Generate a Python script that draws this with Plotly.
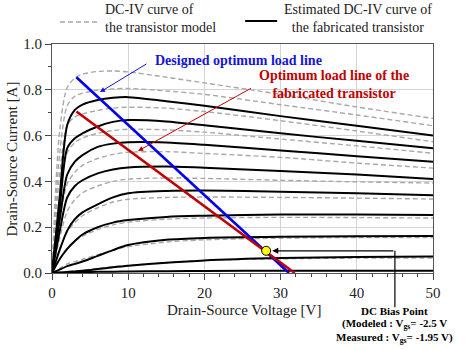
import plotly.graph_objects as go

# ---------------- data ----------------
V = [0, 1, 2, 3, 4, 6, 8, 10, 15, 20, 30, 40, 50]

# estimated DC-IV curves of the fabricated transistor (solid black)
S1 = [0, 0.33, 0.646, 0.712, 0.735, 0.755, 0.765, 0.768, 0.750, 0.730, 0.685, 0.643, 0.600]
S2 = [0, 0.28, 0.545, 0.588, 0.610, 0.640, 0.660, 0.668, 0.662, 0.645, 0.610, 0.577, 0.545]
S3 = [0, 0.23, 0.430, 0.486, 0.515, 0.551, 0.565, 0.571, 0.570, 0.560, 0.535, 0.510, 0.486]
S4 = [0, 0.18, 0.330, 0.380, 0.405, 0.435, 0.452, 0.461, 0.465, 0.460, 0.445, 0.430, 0.410]
S5 = [0, 0.10, 0.185, 0.235, 0.265, 0.300, 0.330, 0.348, 0.358, 0.360, 0.355, 0.348, 0.340]
S6 = [0, 0.06, 0.105, 0.140, 0.168, 0.200, 0.220, 0.231, 0.245, 0.250, 0.255, 0.255, 0.253]
S7 = [0, 0.015, 0.030, 0.040, 0.050, 0.075, 0.100, 0.122, 0.145, 0.153, 0.158, 0.160, 0.162]
S8 = [0, 0.002, 0.004, 0.007, 0.010, 0.017, 0.025, 0.032, 0.045, 0.055, 0.065, 0.070, 0.072]
S9 = [0, 0.001, 0.002, 0.003, 0.004, 0.005, 0.006, 0.007, 0.008, 0.009, 0.010, 0.010, 0.010]
solid_curves = [S1, S2, S3, S4, S5, S6, S7, S8, S9]

# DC-IV curves of the transistor model (dashed gray)
D1 = [0, 0.62, 0.810, 0.852, 0.868, 0.880, 0.882, 0.878, 0.855, 0.830, 0.780, 0.725, 0.675]
D2 = [0, 0.52, 0.730, 0.772, 0.785, 0.798, 0.804, 0.806, 0.795, 0.780, 0.735, 0.690, 0.643]
D3 = [0, 0.43, 0.645, 0.682, 0.695, 0.710, 0.720, 0.724, 0.720, 0.705, 0.665, 0.620, 0.573]
D4 = [0, 0.33, 0.525, 0.570, 0.590, 0.610, 0.622, 0.628, 0.625, 0.615, 0.585, 0.555, 0.523]
D5 = [0, 0.23, 0.390, 0.440, 0.470, 0.500, 0.518, 0.527, 0.530, 0.522, 0.505, 0.480, 0.458]
D6 = [0, 0.15, 0.270, 0.320, 0.350, 0.380, 0.400, 0.410, 0.415, 0.413, 0.405, 0.398, 0.393]
D7 = [0, 0.10, 0.180, 0.220, 0.250, 0.285, 0.310, 0.322, 0.330, 0.332, 0.330, 0.327, 0.323]
D8 = [0, 0.06, 0.110, 0.140, 0.160, 0.190, 0.210, 0.222, 0.235, 0.240, 0.243, 0.242, 0.240]
D9 = [0, 0.02, 0.040, 0.050, 0.060, 0.080, 0.100, 0.115, 0.135, 0.145, 0.152, 0.155, 0.155]
D10 = [0, 0.002, 0.005, 0.008, 0.012, 0.020, 0.028, 0.033, 0.045, 0.055, 0.062, 0.065, 0.065]
dashed_curves = [D1, D2, D3, D4, D5, D6, D7, D8, D9, D10]

# load lines (V, I end points)
designed_V = [3.2, 31.1]
designed_I = [0.855, 0.0]
fabricated_V = [3.2, 31.85]
fabricated_I = [0.705, 0.0]

# DC bias point
bias_V = [28.1]
bias_I = [0.097]
bias_box_V = 45

x_ticks = [0, 10, 20, 30, 40, 50]
y_ticks = [0.0, 0.2, 0.4, 0.6, 0.8, 1.0]

# ---------------- figure ----------------
SERIF = "Liberation Serif"
fig = go.Figure()

for d in dashed_curves:
    fig.add_trace(go.Scatter(x=V, y=d, mode="lines", showlegend=False,
                             line=dict(color="#a8a8a8", width=1.4, dash="5px,3px",
                                       shape="spline", smoothing=0.8)))
for s in solid_curves:
    fig.add_trace(go.Scatter(x=V, y=s, mode="lines", showlegend=False,
                             line=dict(color="black", width=2, shape="spline", smoothing=0.8)))

fig.add_trace(go.Scatter(x=designed_V, y=designed_I, mode="lines", showlegend=False,
                         line=dict(color="#0000ee", width=2.6)))
fig.add_trace(go.Scatter(x=fabricated_V, y=fabricated_I, mode="lines", showlegend=False,
                         line=dict(color="#c00000", width=2.6)))
fig.add_trace(go.Scatter(x=bias_V, y=bias_I, mode="markers", showlegend=False,
                         marker=dict(color="#ffff00", size=9, line=dict(color="black", width=1))))


def note(text, x, y, xref="paper", yref="paper", size=14, color="#222", bold=False, **kw):
    t = f"<b>{text}</b>" if bold else text
    d = dict(x=x, y=y, xref=xref, yref=yref, text=t, showarrow=False,
             xanchor=kw.pop("xanchor", "center"), yanchor=kw.pop("yanchor", "middle"),
             font=dict(family=SERIF, size=size, color=color))
    d.update(kw)
    return d


ann = []
# load line labels
ann.append(note("Designed optimum load line", 24.5, 0.93, "x", "y", size=14, color="#1515d8", bold=True))
ann.append(dict(x=6.3, y=0.79, ax=12.6, ay=0.917, xref="x", yref="y", axref="x", ayref="y",
                text="", showarrow=True, arrowhead=2, arrowsize=1, arrowwidth=1, arrowcolor="#1515d8"))
ann.append(note("Optimum load line of the<br>fabricated transistor", 37.0, 0.822, "x", "y",
                size=14, color="#c00000", bold=True))
ann.append(dict(x=11.3, y=0.533, ax=26.3, ay=0.81, xref="x", yref="y", axref="x", ayref="y",
                text="", showarrow=True, arrowhead=2, arrowsize=1, arrowwidth=1, arrowcolor="#c00000"))
# bias point arrow
ann.append(dict(x=bias_V[0] + 0.8, y=bias_I[0], ax=bias_box_V, ay=bias_I[0], xref="x", yref="y",
                axref="x", ayref="y", text="", showarrow=True, arrowhead=2, arrowsize=1,
                arrowwidth=1.2, arrowcolor="black"))
# bias text
ann.append(note("DC Bias Point", 0.9, -0.168, size=11, color="black", bold=True))
ann.append(note("(Modeled : V<sub>gs</sub>= -2.5 V", 0.9, -0.224, size=11, color="black", bold=True))
ann.append(note("Measured : V<sub>gs</sub>= -1.95 V)", 0.9, -0.282, size=11, color="black", bold=True))
# axis titles
ann.append(note("Drain-Source Voltage [V]", 0.505, -0.16, size=15))
ann.append(note("Drain-Source Current [A]", -0.105, 0.5, size=15, textangle=-90))
# legend texts
ann.append(note("DC-IV curve of<br>the transistor model", 0.134, 1.11, size=14,
                xanchor="left", align="left"))
ann.append(note("Estimated DC-IV curve of<br>the fabricated transistor", 0.802, 1.11, size=14,
                align="center"))

shapes = [
    # vertical line from bias box down to the label
    dict(type="line", xref="x domain", yref="y domain", x0=bias_box_V / 50, x1=bias_box_V / 50,
         y0=bias_I[0], y1=-0.15, line=dict(color="black", width=1.2)),
    # legend samples
    dict(type="line", xref="paper", yref="paper", x0=0.021, x1=0.118, y0=1.096, y1=1.096,
         line=dict(color="#a8a8a8", width=1.4, dash="5px,3px")),
    dict(type="line", xref="paper", yref="paper", x0=0.507, x1=0.591, y0=1.100, y1=1.100,
         line=dict(color="black", width=2)),
]

axis_common = dict(showgrid=True, gridcolor="#d4d4d4", gridwidth=1, showline=True,
                   linecolor="#555", linewidth=1, mirror=True, ticks="outside",
                   ticklen=6, tickcolor="#444", zeroline=False,
                   tickfont=dict(family=SERIF, size=15, color="#222"))

fig.update_layout(
    width=474, height=350,
    margin=dict(l=52, r=41, t=44, b=77),
    paper_bgcolor="white", plot_bgcolor="white",
    annotations=ann, shapes=shapes,
    xaxis=dict(range=[0, 50], tickvals=x_ticks,
               minor=dict(dtick=2, ticks="outside", ticklen=3, tickcolor="#444", showgrid=False),
               **axis_common),
    yaxis=dict(range=[0, 1], tickvals=y_ticks, tickformat=".1f",
               minor=dict(dtick=0.1, ticks="outside", ticklen=3, tickcolor="#444", showgrid=False),
               **axis_common),
)

fig.write_html("out.html")
